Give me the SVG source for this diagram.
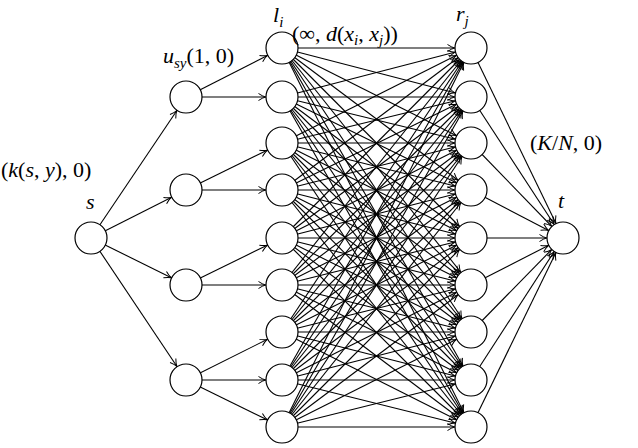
<svg xmlns="http://www.w3.org/2000/svg" width="638" height="448" viewBox="0 0 638 448">
<style>
.e{stroke:#000;stroke-width:1.1;fill:none;marker-end:url(#a)}
.n{fill:#fff;stroke:#000;stroke-width:1.2}
text{font-family:"Liberation Serif",serif;font-size:22px;fill:#000}
.i{font-style:italic}
</style>
<defs>
<marker id="a" markerUnits="userSpaceOnUse" refX="16.5" refY="0" orient="auto" overflow="visible" markerWidth="1" markerHeight="1">
<path d="M-7,-3.5 Q-3,-0.8 0,0 Q-3,0.8 -7,3.5" fill="none" stroke="#000" stroke-width="1"/>
</marker>
</defs>
<rect width="638" height="448" fill="#fff"/>
<g id="connectors">
<line class="e" x1="91" y1="238" x2="186" y2="97"/>
<line class="e" x1="91" y1="238" x2="186" y2="190"/>
<line class="e" x1="91" y1="238" x2="186" y2="285"/>
<line class="e" x1="91" y1="238" x2="186" y2="380"/>
<line class="e" x1="186" y1="97" x2="282" y2="48"/>
<line class="e" x1="186" y1="97" x2="282" y2="97"/>
<line class="e" x1="186" y1="190" x2="282" y2="143"/>
<line class="e" x1="186" y1="190" x2="282" y2="190"/>
<line class="e" x1="186" y1="285" x2="282" y2="238"/>
<line class="e" x1="186" y1="285" x2="282" y2="285"/>
<line class="e" x1="186" y1="380" x2="282" y2="332"/>
<line class="e" x1="186" y1="380" x2="282" y2="380"/>
<line class="e" x1="186" y1="380" x2="282" y2="427"/>
<g>
<line class="e" x1="282" y1="48" x2="471" y2="48"/><line class="e" x1="282" y1="48" x2="471" y2="97"/><line class="e" x1="282" y1="48" x2="471" y2="143"/><line class="e" x1="282" y1="48" x2="471" y2="190"/><line class="e" x1="282" y1="48" x2="471" y2="238"/><line class="e" x1="282" y1="48" x2="471" y2="285"/><line class="e" x1="282" y1="48" x2="471" y2="332"/><line class="e" x1="282" y1="48" x2="471" y2="380"/><line class="e" x1="282" y1="48" x2="471" y2="427"/>
<line class="e" x1="282" y1="97" x2="471" y2="48"/><line class="e" x1="282" y1="97" x2="471" y2="97"/><line class="e" x1="282" y1="97" x2="471" y2="143"/><line class="e" x1="282" y1="97" x2="471" y2="190"/><line class="e" x1="282" y1="97" x2="471" y2="238"/><line class="e" x1="282" y1="97" x2="471" y2="285"/><line class="e" x1="282" y1="97" x2="471" y2="332"/><line class="e" x1="282" y1="97" x2="471" y2="380"/><line class="e" x1="282" y1="97" x2="471" y2="427"/>
<line class="e" x1="282" y1="143" x2="471" y2="48"/><line class="e" x1="282" y1="143" x2="471" y2="97"/><line class="e" x1="282" y1="143" x2="471" y2="143"/><line class="e" x1="282" y1="143" x2="471" y2="190"/><line class="e" x1="282" y1="143" x2="471" y2="238"/><line class="e" x1="282" y1="143" x2="471" y2="285"/><line class="e" x1="282" y1="143" x2="471" y2="332"/><line class="e" x1="282" y1="143" x2="471" y2="380"/><line class="e" x1="282" y1="143" x2="471" y2="427"/>
<line class="e" x1="282" y1="190" x2="471" y2="48"/><line class="e" x1="282" y1="190" x2="471" y2="97"/><line class="e" x1="282" y1="190" x2="471" y2="143"/><line class="e" x1="282" y1="190" x2="471" y2="190"/><line class="e" x1="282" y1="190" x2="471" y2="238"/><line class="e" x1="282" y1="190" x2="471" y2="285"/><line class="e" x1="282" y1="190" x2="471" y2="332"/><line class="e" x1="282" y1="190" x2="471" y2="380"/><line class="e" x1="282" y1="190" x2="471" y2="427"/>
<line class="e" x1="282" y1="238" x2="471" y2="48"/><line class="e" x1="282" y1="238" x2="471" y2="97"/><line class="e" x1="282" y1="238" x2="471" y2="143"/><line class="e" x1="282" y1="238" x2="471" y2="190"/><line class="e" x1="282" y1="238" x2="471" y2="238"/><line class="e" x1="282" y1="238" x2="471" y2="285"/><line class="e" x1="282" y1="238" x2="471" y2="332"/><line class="e" x1="282" y1="238" x2="471" y2="380"/><line class="e" x1="282" y1="238" x2="471" y2="427"/>
<line class="e" x1="282" y1="285" x2="471" y2="48"/><line class="e" x1="282" y1="285" x2="471" y2="97"/><line class="e" x1="282" y1="285" x2="471" y2="143"/><line class="e" x1="282" y1="285" x2="471" y2="190"/><line class="e" x1="282" y1="285" x2="471" y2="238"/><line class="e" x1="282" y1="285" x2="471" y2="285"/><line class="e" x1="282" y1="285" x2="471" y2="332"/><line class="e" x1="282" y1="285" x2="471" y2="380"/><line class="e" x1="282" y1="285" x2="471" y2="427"/>
<line class="e" x1="282" y1="332" x2="471" y2="48"/><line class="e" x1="282" y1="332" x2="471" y2="97"/><line class="e" x1="282" y1="332" x2="471" y2="143"/><line class="e" x1="282" y1="332" x2="471" y2="190"/><line class="e" x1="282" y1="332" x2="471" y2="238"/><line class="e" x1="282" y1="332" x2="471" y2="285"/><line class="e" x1="282" y1="332" x2="471" y2="332"/><line class="e" x1="282" y1="332" x2="471" y2="380"/><line class="e" x1="282" y1="332" x2="471" y2="427"/>
<line class="e" x1="282" y1="380" x2="471" y2="48"/><line class="e" x1="282" y1="380" x2="471" y2="97"/><line class="e" x1="282" y1="380" x2="471" y2="143"/><line class="e" x1="282" y1="380" x2="471" y2="190"/><line class="e" x1="282" y1="380" x2="471" y2="238"/><line class="e" x1="282" y1="380" x2="471" y2="285"/><line class="e" x1="282" y1="380" x2="471" y2="332"/><line class="e" x1="282" y1="380" x2="471" y2="380"/><line class="e" x1="282" y1="380" x2="471" y2="427"/>
<line class="e" x1="282" y1="427" x2="471" y2="48"/><line class="e" x1="282" y1="427" x2="471" y2="97"/><line class="e" x1="282" y1="427" x2="471" y2="143"/><line class="e" x1="282" y1="427" x2="471" y2="190"/><line class="e" x1="282" y1="427" x2="471" y2="238"/><line class="e" x1="282" y1="427" x2="471" y2="285"/><line class="e" x1="282" y1="427" x2="471" y2="332"/><line class="e" x1="282" y1="427" x2="471" y2="380"/><line class="e" x1="282" y1="427" x2="471" y2="427"/>
</g>
<line class="e" x1="471" y1="48" x2="563" y2="238"/><line class="e" x1="471" y1="97" x2="563" y2="238"/><line class="e" x1="471" y1="143" x2="563" y2="238"/><line class="e" x1="471" y1="190" x2="563" y2="238"/><line class="e" x1="471" y1="238" x2="563" y2="238"/><line class="e" x1="471" y1="285" x2="563" y2="238"/><line class="e" x1="471" y1="332" x2="563" y2="238"/><line class="e" x1="471" y1="380" x2="563" y2="238"/><line class="e" x1="471" y1="427" x2="563" y2="238"/>
</g>
<g id="s"><circle class="n" cx="91" cy="238" r="16"/></g>
<g id="u1"><circle class="n" cx="186" cy="97" r="16"/></g>
<g id="u2"><circle class="n" cx="186" cy="190" r="16"/></g>
<g id="u3"><circle class="n" cx="186" cy="285" r="16"/></g>
<g id="u4"><circle class="n" cx="186" cy="380" r="16"/></g>
<g id="l1"><circle class="n" cx="282" cy="48" r="16"/></g>
<g id="l2"><circle class="n" cx="282" cy="97" r="16"/></g>
<g id="l3"><circle class="n" cx="282" cy="143" r="16"/></g>
<g id="l4"><circle class="n" cx="282" cy="190" r="16"/></g>
<g id="l5"><circle class="n" cx="282" cy="238" r="16"/></g>
<g id="l6"><circle class="n" cx="282" cy="285" r="16"/></g>
<g id="l7"><circle class="n" cx="282" cy="332" r="16"/></g>
<g id="l8"><circle class="n" cx="282" cy="380" r="16"/></g>
<g id="l9"><circle class="n" cx="282" cy="427" r="16"/></g>
<g id="r1"><circle class="n" cx="471" cy="48" r="16"/></g>
<g id="r2"><circle class="n" cx="471" cy="97" r="16"/></g>
<g id="r3"><circle class="n" cx="471" cy="143" r="16"/></g>
<g id="r4"><circle class="n" cx="471" cy="190" r="16"/></g>
<g id="r5"><circle class="n" cx="471" cy="238" r="16"/></g>
<g id="r6"><circle class="n" cx="471" cy="285" r="16"/></g>
<g id="r7"><circle class="n" cx="471" cy="332" r="16"/></g>
<g id="r8"><circle class="n" cx="471" cy="380" r="16"/></g>
<g id="r9"><circle class="n" cx="471" cy="427" r="16"/></g>
<g id="t"><circle class="n" cx="563" cy="238" r="16"/></g>
<g id="labels">
<text x="1" y="177" font-size="24">(<tspan class="i">k</tspan>(<tspan class="i">s</tspan>, <tspan class="i">y</tspan>), 0)</text>
<text x="86" y="209" class="i">s</text>
<text x="163" y="63"><tspan class="i">u</tspan><tspan class="i" font-size="15" dy="5">sy</tspan><tspan dy="-5">(1, 0)</tspan></text>
<text x="273" y="22"><tspan class="i">l</tspan><tspan class="i" font-size="15" dy="5">i</tspan></text>
<text x="292" y="41">(∞, <tspan class="i">d</tspan>(<tspan class="i">x</tspan><tspan class="i" font-size="15" dy="4">i</tspan><tspan dy="-4">, </tspan><tspan class="i">x</tspan><tspan class="i" font-size="15" dy="4">j</tspan><tspan dy="-4">))</tspan></text>
<text x="456" y="21"><tspan class="i">r</tspan><tspan class="i" font-size="15" dy="5">j</tspan></text>
<text x="530" y="150" font-size="24">(<tspan class="i">K</tspan>/<tspan class="i">N</tspan>, 0)</text>
<text x="558" y="208" class="i">t</text>
</g>
</svg>
